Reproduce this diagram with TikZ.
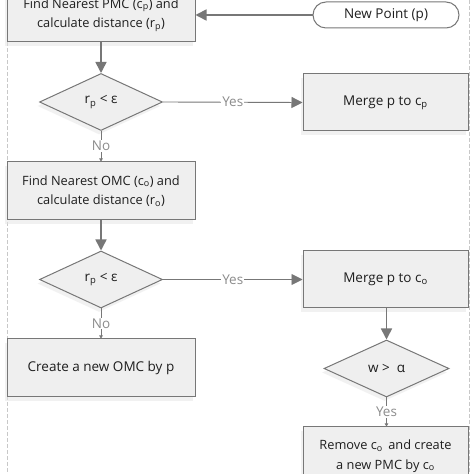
\documentclass[tikz,border=0pt]{standalone}
\usepackage{fontspec}
\setmainfont{Open Sans}
\usetikzlibrary{shapes.geometric,arrows.meta,shadows}
\definecolor{edge}{HTML}{777777}
\definecolor{boxfill}{HTML}{EFEFEF}
\definecolor{txt}{HTML}{1E1E1E}
\definecolor{lbl}{HTML}{8C8C8C}
\definecolor{frame}{HTML}{C8C8C8}
\tikzset{
  shad/.style={drop shadow={shadow xshift=-2pt,shadow yshift=-4pt,fill=black!10,opacity=0.5}},
  procbox/.style={rectangle,draw=edge,line width=1pt,fill=boxfill,minimum width=188pt,minimum height=58pt,align=center,text=txt,font=\fontsize{12.8}{19.5}\selectfont,inner sep=0pt,shad},
  mergebox/.style={procbox,minimum width=165pt,minimum height=57pt},
  decision/.style={diamond,draw=edge,line width=1pt,fill=boxfill,minimum width=123pt,minimum height=57pt,aspect=2.16,inner sep=0pt,text=txt,font=\fontsize{13.5}{15}\selectfont,shad},
  pill/.style={rectangle,rounded corners=13pt,draw=edge,line width=1pt,fill=white,minimum width=146pt,minimum height=26pt,text=txt,font=\fontsize{13.5}{15}\selectfont,inner sep=0pt},
  bigarrow/.style={draw=edge,line width=1.6pt,-{Triangle[length=11pt,width=11pt]}},
  yesarrow/.style={draw=edge,line width=0.9pt,-{Triangle[length=11pt,width=11pt]}},
  smallarrow/.style={draw=edge,line width=0.6pt,-{Triangle[length=3pt,width=3.5pt]}},
  lab/.style={text=lbl,fill=white,inner sep=1pt,font=\fontsize{13.5}{15}\selectfont},
  framel/.style={draw=frame,line width=0.8pt,dash pattern=on 4pt off 2pt}
}
\begin{document}
\begin{tikzpicture}[x=1pt,y=1pt]
\useasboundingbox (0,0) rectangle (474,474);
\fill[white] (0,0) rectangle (474,474);
\draw[framel] (7,474) -- (7,0);
\draw[framel] (469,474) -- (469,0);

\node[procbox,minimum height=54pt] (b1) at (101,459) {Find Nearest PMC (c\textsubscript{p}) and\\calculate distance (r\textsubscript{p})};
\node[pill] (np) at (386,459) {New Point (p)};
\node[decision] (d1) at (101,372) {r\textsubscript{p} < ε};
\node[mergebox,font=\fontsize{13.5}{15}\selectfont] (m1) at (385.5,371.5) {Merge p to c\textsubscript{p}};
\node[procbox] (b2) at (101,283) {Find Nearest OMC (c\textsubscript{o}) and\\calculate distance (r\textsubscript{o})};
\node[decision] (d2) at (101,194.5) {r\textsubscript{p} < ε};
\node[mergebox,font=\fontsize{13.5}{15}\selectfont] (m2) at (385.5,194.5) {Merge p to c\textsubscript{o}};
\node[procbox,font=\fontsize{13.5}{15}\selectfont] (b3) at (101,106) {Create a new OMC by p};
\node[decision,minimum width=125pt] (d3) at (386.5,105.5) {w >\ \ α};
\node[mergebox,minimum height=58pt] (b4) at (385.5,18) {Remove c\textsubscript{o}\, and create\\a new PMC by c\textsubscript{o}};

\draw[bigarrow] (np.west) -- (b1.east |- np.west);
\draw[bigarrow] (b1.south) -- (d1.north);
\draw[yesarrow] (d1.east) -- node[lab] {Yes} (m1.west);
\draw[smallarrow] (d1.south) -- node[lab] {No} (b2.north);
\draw[bigarrow] (b2.south) -- (d2.north);
\draw[yesarrow] (d2.east) -- node[lab] {Yes} (m2.west);
\draw[smallarrow] (d2.south) -- node[lab] {No} (b3.north);
\draw[bigarrow] (m2.south -| d3.north) -- (d3.north);
\draw[smallarrow] (d3.south) -- node[lab] {Yes} (b4.north -| d3.south);
\end{tikzpicture}
\end{document}
